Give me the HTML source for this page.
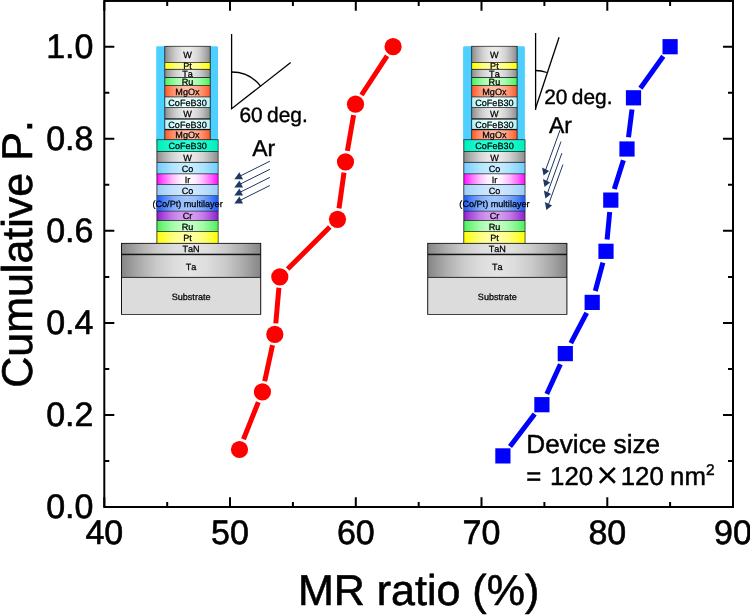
<!DOCTYPE html>
<html lang="en"><head><meta charset="utf-8"><title>MR ratio cumulative probability</title>
<style>
html,body{margin:0;padding:0;background:#fff;}
body{width:750px;height:615px;overflow:hidden;font-family:"Liberation Sans",Arial,Helvetica,sans-serif;}
svg{display:block;}
text{font-family:"Liberation Sans",Arial,Helvetica,sans-serif;fill:#000;text-rendering:geometricPrecision;font-kerning:none;}
.tk{font-size:34px;stroke:#000;stroke-width:0.6px;}
.ttl{font-size:43px;stroke:#000;stroke-width:0.6px;}
.lay{font-size:9.1px;text-anchor:middle;stroke:#000;stroke-width:0.25px;}
.ann{font-size:25.8px;stroke:#000;stroke-width:0.45px;}
.sm{stroke:#000;stroke-width:0.4px;}
</style></head><body>
<svg width="750" height="615" viewBox="0 0 750 615">
<defs>
<linearGradient id="gW" x1="0" x2="1" y1="0" y2="0"><stop offset="0" stop-color="#8e8e8e"/><stop offset="0.12" stop-color="#b2b2b2"/><stop offset="0.25" stop-color="#d2d2d2"/><stop offset="0.38" stop-color="#e5e5e5"/><stop offset="0.5" stop-color="#ececec"/><stop offset="0.62" stop-color="#e5e5e5"/><stop offset="0.75" stop-color="#d2d2d2"/><stop offset="0.88" stop-color="#b2b2b2"/><stop offset="1" stop-color="#8e8e8e"/></linearGradient>
<linearGradient id="gPt" x1="0" x2="1" y1="0" y2="0"><stop offset="0" stop-color="#ffff00"/><stop offset="0.12" stop-color="#ffff40"/><stop offset="0.25" stop-color="#ffff79"/><stop offset="0.38" stop-color="#ffff9c"/><stop offset="0.5" stop-color="#ffffa8"/><stop offset="0.62" stop-color="#ffff9c"/><stop offset="0.75" stop-color="#ffff79"/><stop offset="0.88" stop-color="#ffff40"/><stop offset="1" stop-color="#ffff00"/></linearGradient>
<linearGradient id="gRu" x1="0" x2="1" y1="0" y2="0"><stop offset="0" stop-color="#4cf05c"/><stop offset="0.12" stop-color="#7af685"/><stop offset="0.25" stop-color="#a2fbaa"/><stop offset="0.38" stop-color="#bcfec0"/><stop offset="0.5" stop-color="#c4ffc8"/><stop offset="0.62" stop-color="#bcfec0"/><stop offset="0.75" stop-color="#a2fbaa"/><stop offset="0.88" stop-color="#7af685"/><stop offset="1" stop-color="#4cf05c"/></linearGradient>
<linearGradient id="gMg" x1="0" x2="1" y1="0" y2="0"><stop offset="0" stop-color="#ff5a2a"/><stop offset="0.12" stop-color="#ff815a"/><stop offset="0.25" stop-color="#ffa385"/><stop offset="0.38" stop-color="#ffb99f"/><stop offset="0.5" stop-color="#ffc0a8"/><stop offset="0.62" stop-color="#ffb99f"/><stop offset="0.75" stop-color="#ffa385"/><stop offset="0.88" stop-color="#ff815a"/><stop offset="1" stop-color="#ff5a2a"/></linearGradient>
<linearGradient id="gCF" x1="0" x2="1" y1="0" y2="0"><stop offset="0" stop-color="#b4f4f8"/><stop offset="0.12" stop-color="#c8f8fb"/><stop offset="0.25" stop-color="#d9fcfd"/><stop offset="0.38" stop-color="#e4feff"/><stop offset="0.5" stop-color="#e8ffff"/><stop offset="0.62" stop-color="#e4feff"/><stop offset="0.75" stop-color="#d9fcfd"/><stop offset="0.88" stop-color="#c8f8fb"/><stop offset="1" stop-color="#b4f4f8"/></linearGradient>
<linearGradient id="gCFt" x1="0" x2="1" y1="0" y2="0"><stop offset="0" stop-color="#00eebc"/><stop offset="0.12" stop-color="#0ff4c7"/><stop offset="0.25" stop-color="#1dfad0"/><stop offset="0.38" stop-color="#25fed6"/><stop offset="0.5" stop-color="#28ffd8"/><stop offset="0.62" stop-color="#25fed6"/><stop offset="0.75" stop-color="#1dfad0"/><stop offset="0.88" stop-color="#0ff4c7"/><stop offset="1" stop-color="#00eebc"/></linearGradient>
<linearGradient id="gCo" x1="0" x2="1" y1="0" y2="0"><stop offset="0" stop-color="#70ccff"/><stop offset="0.12" stop-color="#91d8ff"/><stop offset="0.25" stop-color="#afe3ff"/><stop offset="0.38" stop-color="#c2eaff"/><stop offset="0.5" stop-color="#c8ecff"/><stop offset="0.62" stop-color="#c2eaff"/><stop offset="0.75" stop-color="#afe3ff"/><stop offset="0.88" stop-color="#91d8ff"/><stop offset="1" stop-color="#70ccff"/></linearGradient>
<linearGradient id="gIr" x1="0" x2="1" y1="0" y2="0"><stop offset="0" stop-color="#ff10ff"/><stop offset="0.12" stop-color="#ff6bff"/><stop offset="0.25" stop-color="#ffbcff"/><stop offset="0.38" stop-color="#ffeeff"/><stop offset="0.5" stop-color="#ffffff"/><stop offset="0.62" stop-color="#ffeeff"/><stop offset="0.75" stop-color="#ffbcff"/><stop offset="0.88" stop-color="#ff6bff"/><stop offset="1" stop-color="#ff10ff"/></linearGradient>
<linearGradient id="gCo2" x1="0" x2="1" y1="0" y2="0"><stop offset="0" stop-color="#98ccf8"/><stop offset="0.12" stop-color="#add7fb"/><stop offset="0.25" stop-color="#c0e0fd"/><stop offset="0.38" stop-color="#cce6ff"/><stop offset="0.5" stop-color="#d0e8ff"/><stop offset="0.62" stop-color="#cce6ff"/><stop offset="0.75" stop-color="#c0e0fd"/><stop offset="0.88" stop-color="#add7fb"/><stop offset="1" stop-color="#98ccf8"/></linearGradient>
<linearGradient id="gML" x1="0" x2="1" y1="0" y2="0"><stop offset="0" stop-color="#1858f0"/><stop offset="0.12" stop-color="#4c82f6"/><stop offset="0.25" stop-color="#7aa7fb"/><stop offset="0.38" stop-color="#96befe"/><stop offset="0.5" stop-color="#a0c6ff"/><stop offset="0.62" stop-color="#96befe"/><stop offset="0.75" stop-color="#7aa7fb"/><stop offset="0.88" stop-color="#4c82f6"/><stop offset="1" stop-color="#1858f0"/></linearGradient>
<linearGradient id="gCr" x1="0" x2="1" y1="0" y2="0"><stop offset="0" stop-color="#9020d0"/><stop offset="0.12" stop-color="#ab51dc"/><stop offset="0.25" stop-color="#c47ce7"/><stop offset="0.38" stop-color="#d397ee"/><stop offset="0.5" stop-color="#d8a0f0"/><stop offset="0.62" stop-color="#d397ee"/><stop offset="0.75" stop-color="#c47ce7"/><stop offset="0.88" stop-color="#ab51dc"/><stop offset="1" stop-color="#9020d0"/></linearGradient>
<linearGradient id="gTa" x1="0" x2="1" y1="0" y2="0"><stop offset="0" stop-color="#868686"/><stop offset="0.12" stop-color="#aaaaaa"/><stop offset="0.25" stop-color="#cacaca"/><stop offset="0.38" stop-color="#dddddd"/><stop offset="0.5" stop-color="#e4e4e4"/><stop offset="0.62" stop-color="#dddddd"/><stop offset="0.75" stop-color="#cacaca"/><stop offset="0.88" stop-color="#aaaaaa"/><stop offset="1" stop-color="#868686"/></linearGradient>
</defs>
<g transform="translate(0 0)">
<rect x="156.2" y="46.2" width="61.8" height="95" rx="1.2" fill="#4dd0ff"/>
<rect x="164.4" y="45.9" width="46.2" height="94" fill="#141414"/><rect x="156.5" y="139.4" width="62.0" height="104" fill="#141414"/><rect x="121.0" y="242.9" width="140.2" height="71.9" fill="#141414"/>
<rect x="165.2" y="46.6" width="44.6" height="15.5" fill="url(#gW)"/><text class="lay" x="187.5" y="58.0">W</text>
<rect x="165.2" y="62.8" width="44.6" height="6.1" fill="url(#gPt)"/><text class="lay" x="187.5" y="69.4">Pt</text>
<rect x="165.2" y="69.7" width="44.6" height="7.5" fill="url(#gW)"/><text class="lay" x="187.5" y="77.0">Ta</text>
<rect x="165.2" y="78.0" width="44.6" height="7.2" fill="url(#gRu)"/><text class="lay" x="187.5" y="85.2">Ru</text>
<rect x="165.2" y="85.9" width="44.6" height="10.7" fill="url(#gMg)"/><text class="lay" x="187.5" y="94.8">MgOx</text>
<rect x="165.2" y="97.3" width="44.6" height="9.9" fill="url(#gCF)"/><text class="lay" x="187.5" y="105.8">CoFeB30</text>
<rect x="165.2" y="107.9" width="44.6" height="10.4" fill="url(#gW)"/><text class="lay" x="187.5" y="116.7">W</text>
<rect x="165.2" y="119.6" width="44.6" height="9.3" fill="url(#gCF)"/><text class="lay" x="187.5" y="127.8">CoFeB30</text>
<rect x="165.2" y="130.2" width="44.6" height="9.1" fill="url(#gMg)"/><text class="lay" x="187.5" y="138.3">MgOx</text>
<rect x="157.3" y="140.1" width="60.5" height="11.1" fill="url(#gCFt)"/><text class="lay" x="187.6" y="149.2">CoFeB30</text>
<rect x="157.3" y="151.9" width="60.5" height="10.0" fill="url(#gW)"/><text class="lay" x="187.6" y="160.5">W</text>
<rect x="157.3" y="162.7" width="60.5" height="10.8" fill="url(#gCo)"/><text class="lay" x="187.6" y="171.7">Co</text>
<rect x="157.3" y="174.2" width="60.5" height="9.8" fill="url(#gIr)"/><text class="lay" x="187.6" y="182.7">Ir</text>
<rect x="157.3" y="184.7" width="60.5" height="10.7" fill="url(#gCo2)"/><text class="lay" x="187.6" y="193.7">Co</text>
<rect x="156.8" y="196.0" width="61.5" height="14.8" fill="url(#gML)"/><text class="lay" x="187.6" y="207.0">(Co/Pt) multilayer</text>
<rect x="157.3" y="211.4" width="60.5" height="8.7" fill="url(#gCr)"/><text class="lay" x="187.6" y="219.3">Cr</text>
<rect x="157.3" y="220.8" width="60.5" height="10.3" fill="url(#gRu)"/><text class="lay" x="187.6" y="229.5">Ru</text>
<rect x="157.3" y="231.8" width="60.5" height="11.1" fill="url(#gPt)"/><text class="lay" x="187.6" y="241.0">Pt</text>
<rect x="122.0" y="243.8" width="138.2" height="9.9" fill="url(#gTa)"/><text class="lay" x="191.1" y="252.3">TaN</text>
<rect x="122.0" y="255.2" width="138.2" height="21.7" fill="url(#gTa)"/><text class="lay" x="191.1" y="269.6">Ta</text>
<rect x="122.0" y="277.8" width="138.2" height="36.2" fill="#dcdcdc"/><text class="lay" x="191.1" y="299.5">Substrate</text>
</g>
<g transform="translate(306.9 0)">
<rect x="156.2" y="46.2" width="61.8" height="95" rx="1.2" fill="#4dd0ff"/>
<rect x="164.4" y="45.9" width="46.2" height="94" fill="#141414"/><rect x="156.5" y="139.4" width="62.0" height="104" fill="#141414"/><rect x="120.3" y="242.9" width="140.2" height="71.9" fill="#141414"/>
<rect x="165.2" y="46.6" width="44.6" height="15.5" fill="url(#gW)"/><text class="lay" x="187.5" y="58.0">W</text>
<rect x="165.2" y="62.8" width="44.6" height="6.1" fill="url(#gPt)"/><text class="lay" x="187.5" y="69.4">Pt</text>
<rect x="165.2" y="69.7" width="44.6" height="7.5" fill="url(#gW)"/><text class="lay" x="187.5" y="77.0">Ta</text>
<rect x="165.2" y="78.0" width="44.6" height="7.2" fill="url(#gRu)"/><text class="lay" x="187.5" y="85.2">Ru</text>
<rect x="165.2" y="85.9" width="44.6" height="10.7" fill="url(#gMg)"/><text class="lay" x="187.5" y="94.8">MgOx</text>
<rect x="165.2" y="97.3" width="44.6" height="9.9" fill="url(#gCF)"/><text class="lay" x="187.5" y="105.8">CoFeB30</text>
<rect x="165.2" y="107.9" width="44.6" height="10.4" fill="url(#gW)"/><text class="lay" x="187.5" y="116.7">W</text>
<rect x="165.2" y="119.6" width="44.6" height="9.3" fill="url(#gCF)"/><text class="lay" x="187.5" y="127.8">CoFeB30</text>
<rect x="165.2" y="130.2" width="44.6" height="9.1" fill="url(#gMg)"/><text class="lay" x="187.5" y="138.3">MgOx</text>
<rect x="157.3" y="140.1" width="60.5" height="11.1" fill="url(#gCFt)"/><text class="lay" x="187.6" y="149.2">CoFeB30</text>
<rect x="157.3" y="151.9" width="60.5" height="10.0" fill="url(#gW)"/><text class="lay" x="187.6" y="160.5">W</text>
<rect x="157.3" y="162.7" width="60.5" height="10.8" fill="url(#gCo)"/><text class="lay" x="187.6" y="171.7">Co</text>
<rect x="157.3" y="174.2" width="60.5" height="9.8" fill="url(#gIr)"/><text class="lay" x="187.6" y="182.7">Ir</text>
<rect x="157.3" y="184.7" width="60.5" height="10.7" fill="url(#gCo2)"/><text class="lay" x="187.6" y="193.7">Co</text>
<rect x="156.8" y="196.0" width="61.5" height="14.8" fill="url(#gML)"/><text class="lay" x="187.6" y="207.0">(Co/Pt) multilayer</text>
<rect x="157.3" y="211.4" width="60.5" height="8.7" fill="url(#gCr)"/><text class="lay" x="187.6" y="219.3">Cr</text>
<rect x="157.3" y="220.8" width="60.5" height="10.3" fill="url(#gRu)"/><text class="lay" x="187.6" y="229.5">Ru</text>
<rect x="157.3" y="231.8" width="60.5" height="11.1" fill="url(#gPt)"/><text class="lay" x="187.6" y="241.0">Pt</text>
<rect x="121.3" y="243.8" width="138.2" height="9.9" fill="url(#gTa)"/><text class="lay" x="190.4" y="252.3">TaN</text>
<rect x="121.3" y="255.2" width="138.2" height="21.7" fill="url(#gTa)"/><text class="lay" x="190.4" y="269.6">Ta</text>
<rect x="121.3" y="277.8" width="138.2" height="36.2" fill="#dcdcdc"/><text class="lay" x="190.4" y="299.5">Substrate</text>
</g>
<g fill="none" stroke="#000" stroke-width="1.3">
<path d="M231.6 34 V108.7 L290.7 62.6"/>
<path d="M231.6 72 A36.7 36.7 0 0 1 260.6 86.1"/>
<path d="M535.6 33 V110"/><path d="M535.6 108.2 L559.1 37.2"/>
<path d="M535.6 70.5 A38 38 0 0 1 546.8 72.5"/>
</g>
<text x="239.4" y="122.4" font-size="20.9" word-spacing="-1.4" class="sm">60 deg.</text>
<text x="252.2" y="155.6" font-size="23" class="sm">Ar</text>
<text x="544.2" y="104.1" font-size="20.9" word-spacing="-1.4" class="sm">20 deg.</text>
<text x="549" y="133.2" font-size="23" class="sm">Ar</text>
<g stroke="#1f3864" stroke-width="1.0" fill="#1f3864">
<path d="M269.9 161.2 L239.6 176.3" fill="none"/><path d="M234.3 179.3 H243 L239.4 172.3 Z" stroke="none"/>
<path d="M269.9 169.3 L239.6 184.4" fill="none"/><path d="M234.3 187.4 H243 L239.4 180.4 Z" stroke="none"/>
<path d="M269.9 177.4 L239.6 192.5" fill="none"/><path d="M234.3 195.5 H243 L239.4 188.5 Z" stroke="none"/>
<path d="M269.9 185.5 L239.6 200.6" fill="none"/><path d="M234.3 203.6 H243 L239.4 196.6 Z" stroke="none"/>
<path d="M560.0 130.1 L545.6 170.0" fill="none"/><path d="M542.0 167.4 L549.2 171.1 L543.5 175.6 Z" stroke="none"/>
<path d="M561.0 141.6 L546.6 181.5" fill="none"/><path d="M543.0 178.9 L550.2 182.6 L544.5 187.1 Z" stroke="none"/>
<path d="M561.9 153.1 L547.5 193.0" fill="none"/><path d="M543.9 190.4 L551.1 194.1 L545.4 198.6 Z" stroke="none"/>
<path d="M562.9 164.6 L548.5 204.5" fill="none"/><path d="M544.9 201.9 L552.1 205.6 L546.4 210.1 Z" stroke="none"/>
</g>
<g stroke="#000" stroke-width="2" fill="none">
<rect x="104.3" y="0.95" width="628.7" height="506.05"/>
<path d="M104.3 507.0 v-9.8 M104.3 0.95 v9.8 M167.2 507.0 v-5.0 M167.2 0.95 v5.0 M230.0 507.0 v-9.8 M230.0 0.95 v9.8 M292.9 507.0 v-5.0 M292.9 0.95 v5.0 M355.8 507.0 v-9.8 M355.8 0.95 v9.8 M418.7 507.0 v-5.0 M418.7 0.95 v5.0 M481.5 507.0 v-9.8 M481.5 0.95 v9.8 M544.4 507.0 v-5.0 M544.4 0.95 v5.0 M607.3 507.0 v-9.8 M607.3 0.95 v9.8 M670.1 507.0 v-5.0 M670.1 0.95 v5.0 M733.0 507.0 v-9.8 M733.0 0.95 v9.8 M104.3 507.0 h10 M733.0 507.0 h-10 M104.3 461.0 h5.0 M733.0 461.0 h-5.0 M104.3 414.9 h10 M733.0 414.9 h-10 M104.3 368.9 h5.0 M733.0 368.9 h-5.0 M104.3 322.9 h10 M733.0 322.9 h-10 M104.3 276.9 h5.0 M733.0 276.9 h-5.0 M104.3 230.8 h10 M733.0 230.8 h-10 M104.3 184.8 h5.0 M733.0 184.8 h-5.0 M104.3 138.8 h10 M733.0 138.8 h-10 M104.3 92.7 h5.0 M733.0 92.7 h-5.0 M104.3 46.7 h10 M733.0 46.7 h-10 M104.3 0.7 h5.0 M733.0 0.7 h-5.0"/>
</g>
<text class="tk" text-anchor="middle" x="104.3" y="544.3">40</text>
<text class="tk" text-anchor="middle" x="230.0" y="544.3">50</text>
<text class="tk" text-anchor="middle" x="355.8" y="544.3">60</text>
<text class="tk" text-anchor="middle" x="481.5" y="544.3">70</text>
<text class="tk" text-anchor="middle" x="607.3" y="544.3">80</text>
<text class="tk" text-anchor="middle" x="733.0" y="544.3">90</text>
<text class="tk" text-anchor="end" x="93.4" y="518.0">0.0</text>
<text class="tk" text-anchor="end" x="93.4" y="425.9">0.2</text>
<text class="tk" text-anchor="end" x="93.4" y="333.9">0.4</text>
<text class="tk" text-anchor="end" x="93.4" y="241.8">0.6</text>
<text class="tk" text-anchor="end" x="93.4" y="149.8">0.8</text>
<text class="tk" text-anchor="end" x="93.4" y="57.7">1.0</text>
<text class="ttl" text-anchor="middle" x="418.6" y="605.3">MR ratio (%)</text>
<text class="ttl" text-anchor="middle" transform="translate(32.0 254.0) rotate(-90)">Cumulative P.</text>
<path d="M243.5 439.2 L258.3 402.1 M264.7 381.2 L272.5 345.1 M275.8 323.4 L278.9 287.8 M287.6 269.1 L329.8 227.1 M339.0 208.4 L344.0 172.7 M347.4 150.9 L353.6 115.1 M361.5 95.0 L387.1 55.9" stroke="#ff0000" stroke-width="5" fill="none"/>
<circle cx="239.5" cy="449.5" r="8.6" fill="#ff0000"/><circle cx="262.4" cy="391.9" r="8.6" fill="#ff0000"/><circle cx="274.8" cy="334.4" r="8.6" fill="#ff0000"/><circle cx="279.8" cy="276.9" r="8.6" fill="#ff0000"/><circle cx="337.5" cy="219.3" r="8.6" fill="#ff0000"/><circle cx="345.5" cy="161.8" r="8.6" fill="#ff0000"/><circle cx="355.5" cy="104.2" r="8.6" fill="#ff0000"/><circle cx="393.1" cy="46.7" r="8.6" fill="#ff0000"/>
<path d="M510.0 446.5 L534.7 414.1 M546.8 394.0 L560.4 364.3 M570.8 343.1 L586.7 312.9 M595.3 291.0 L602.9 262.7 M607.1 239.5 L609.7 211.9 M614.3 188.9 L623.4 160.2 M628.5 137.3 L632.0 109.5 M640.4 88.2 L663.3 56.3" stroke="#0000ff" stroke-width="5" fill="none"/>
<rect x="495.3" y="448.3" width="15.2" height="15.2" fill="#0000ff"/><rect x="534.3" y="397.1" width="15.2" height="15.2" fill="#0000ff"/><rect x="557.7" y="346.0" width="15.2" height="15.2" fill="#0000ff"/><rect x="584.6" y="294.8" width="15.2" height="15.2" fill="#0000ff"/><rect x="598.4" y="243.7" width="15.2" height="15.2" fill="#0000ff"/><rect x="603.2" y="192.5" width="15.2" height="15.2" fill="#0000ff"/><rect x="619.4" y="141.4" width="15.2" height="15.2" fill="#0000ff"/><rect x="625.9" y="90.2" width="15.2" height="15.2" fill="#0000ff"/><rect x="662.5" y="39.1" width="15.2" height="15.2" fill="#0000ff"/>
<text class="ann" x="526.3" y="452.8" style="font-size:26.2px">Device size</text>
<text class="ann" y="485.1"><tspan x="526.3">=</tspan> <tspan x="550.1">120</tspan> <tspan x="596.3" dy="2.8" font-size="38" stroke-width="0">×</tspan> <tspan x="620.7" dy="-2.8">120</tspan> <tspan x="670.1">nm</tspan><tspan font-size="15.5" dy="-10">2</tspan></text>
</svg>
</body></html>
